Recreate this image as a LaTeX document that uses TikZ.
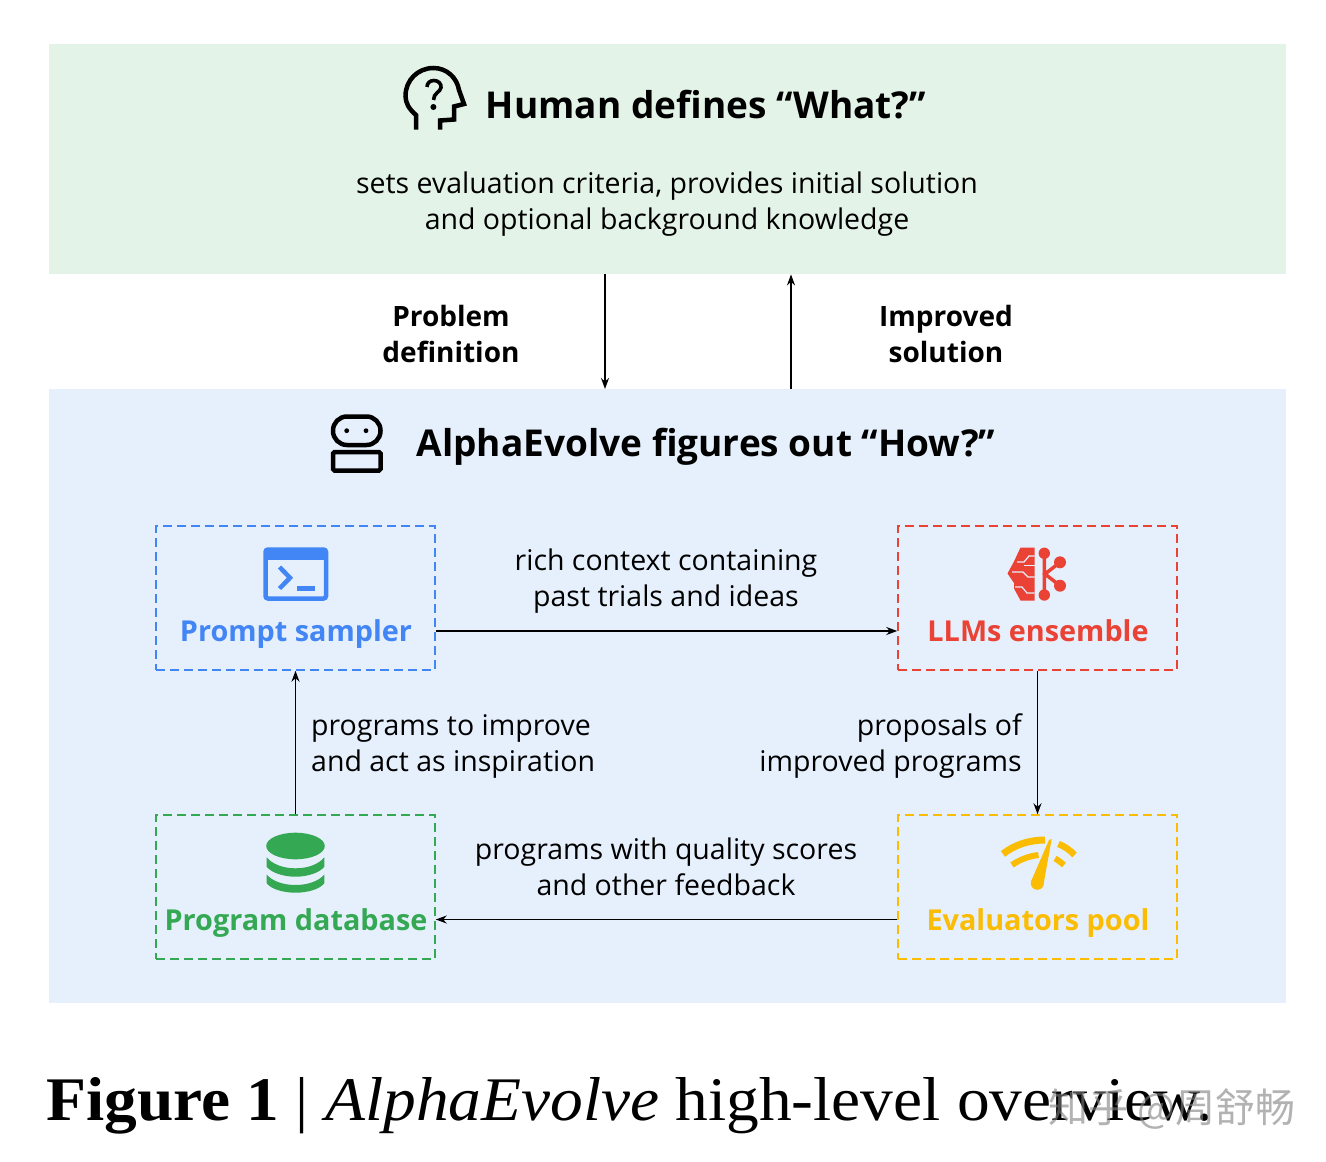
\documentclass[tikz,border=0pt]{standalone}
\usepackage{fontspec}
\setmainfont{Open Sans}
\newfontfamily\capfont[FakeStretch=1.055]{Liberation Serif}
\newfontfamily\cjkfont{Noto Sans CJK SC}
\usetikzlibrary{arrows.meta,calc}
\definecolor{greenbg}{HTML}{E4F3E8}
\definecolor{bluebg}{HTML}{E6F0FC}
\definecolor{gblue}{HTML}{4285F4}
\definecolor{gred}{HTML}{EA4335}
\definecolor{ggreen}{HTML}{34A853}
\definecolor{gyellow}{HTML}{FBBC04}
\tikzset{
  panel/.style={inner sep=0pt,minimum width=1237pt,anchor=north west},
  dbox/.style={draw=#1,line width=1.5pt,dash pattern=on 9pt off 5pt,inner sep=0pt,minimum width=279pt,minimum height=144pt},
  flow/.style={-{Stealth[length=11pt,width=8pt]},line width=1.5pt,black},
  body/.style={font=\fontsize{28.5}{36}\selectfont,align=center,inner sep=0pt},
  bodyl/.style={font=\fontsize{28.5}{36}\selectfont,align=left,inner sep=0pt},
  bodyr/.style={font=\fontsize{28.5}{36}\selectfont,align=right,inner sep=0pt},
  strong/.style={font=\fontsize{28}{36}\selectfont\bfseries,align=center,inner sep=0pt},
  heading/.style={font=\fontsize{37}{40}\selectfont\bfseries,inner sep=0pt,anchor=base},
  boxtitle/.style={font=\fontsize{28.8}{32}\selectfont\bfseries,inner sep=0pt,text=#1,anchor=base},
  iconline/.style={line width=4.5pt,black},
}
\begin{document}
\begin{tikzpicture}[x=1pt,y=-1pt]
\useasboundingbox[fill=white] (0,0) rectangle (1326,1162);
\node[panel,fill=greenbg,minimum height=230pt] (human) at (49,44) {};
\node[panel,fill=bluebg,minimum height=614pt] (how) at (49,389) {};
\node[heading] (humant) at (706,118) {Human defines “What?”};
\node[body] (humans) at (667,204) {sets evaluation criteria, provides initial solution\\and optional background knowledge};
\node[heading] (howt) at (706,456) {AlphaEvolve figures out “How?”};
\node[strong] (pd) at (451,334) {Problem\\definition};
\node[strong] (is) at (946,334) {Improved\\solution};
\node[dbox=gblue] (prompt) at (295.5,598) {};
\node[dbox=gred] (llm) at (1037.5,598) {};
\node[dbox=ggreen] (db) at (295.5,887) {};
\node[dbox=gyellow] (eval) at (1037.5,887) {};
\node[boxtitle=gblue] (promptt) at (296,641) {Prompt sampler};
\node[boxtitle=gred] (llmt) at (1038,641) {LLMs ensemble};
\node[boxtitle=ggreen] (dbt) at (296,930) {Program database};
\node[boxtitle=gyellow] (evalt) at (1038,930) {Evaluators pool};
\node[body] (l1) at (666,581) {rich context containing\\past trials and ideas};
\node[body] (l2) at (666,867) {programs with quality scores\\and other feedback};
\node[bodyl,anchor=west] (l3) at (311,746) {programs to improve\\and act as inspiration};
\node[bodyr,anchor=east] (l4) at (1022,746) {proposals of\\improved programs};
% connectors
\coordinate (dn) at (605,300);
\coordinate (up) at (791,300);
\coordinate (ra) at (600,631);
\coordinate (la) at (600,919.5);
\draw[flow] (human.south -| dn) -- (how.north -| dn);
\draw[flow] (how.north -| up) -- (human.south -| up);
\draw[flow] (prompt.east |- ra) -- (llm.west |- ra);
\draw[flow] (llm.south) -- (eval.north);
\draw[flow] (eval.west |- la) -- (db.east |- la);
\draw[flow] (db.north) -- (prompt.south);
% head icon
\draw[iconline,line join=miter] (416,129.5) -- (416,115) .. controls (409,109) and (405.5,103) .. (405.5,96)
  .. controls (405.5,80) and (418,68) .. (433.5,68) .. controls (447,68) and (457,78) .. (459,90)
  -- (464,104) -- (454,106.5) -- (454,119.5) -- (440,120.5) -- (440,129.5);
\draw[line width=3.6pt,black] (427,87) .. controls (427,83) and (430,80.5) .. (434,80.5) .. controls (438.5,80.5) and (441.5,84) .. (441,87.5) .. controls (440.5,92) and (433.5,93) .. (433.5,100);
\fill[black] (433.4,107) circle (3pt);
% robot icon
\draw[iconline,rounded corners=14pt] (333,416.5) rectangle (380.5,445);
\fill[black] (346.7,430.7) circle (2.4pt) (366,430.7) circle (2.4pt);
\draw[iconline,rounded corners=1.5pt] (333,452) rectangle (380.5,470.5);
% terminal icon
\draw[gblue,line width=4.5pt,rounded corners=2.5pt] (265.5,549.5) rectangle (326,598.5);
\fill[gblue] (265.5,549.5) rectangle (326,559.5);
\draw[gblue,line width=4.5pt] (279.5,567) -- (290,577.8) -- (279.5,588.5);
\draw[gblue,line width=4.5pt] (297,588.3) -- (315,588.3);
% LLM icon
\fill[gred] (1020.5,547.5) -- (1034.5,547.5) -- (1034.5,600.5) -- (1020.5,600.5) -- (1014,588.5) -- (1014,583) -- (1007.5,573.5) -- (1014,561.5) -- cycle;
\draw[bluebg,line width=1.2pt] (1017,562) -- (1024,562) -- (1029,556) -- (1034.5,556);
\draw[bluebg,line width=1.2pt] (1024,565.5) -- (1034.5,565.5);
\draw[bluebg,line width=1.2pt] (1012,572) -- (1023,572) -- (1028,577) -- (1034.5,577);
\draw[bluebg,line width=1.2pt] (1015,587) -- (1022,587) -- (1027,593) -- (1034.5,593);
\draw[gred,line width=3.5pt] (1044.3,553.3) -- (1044.3,595) (1060,562.3) -- (1045,574) -- (1060,585.7);
\fill[gred] (1044.3,553.3) circle (5.7pt) (1044.3,595) circle (5.7pt) (1060,562.3) circle (6pt) (1060,585.7) circle (6pt);
% gauge icon
\draw[gyellow,line width=7pt] (1003,854) .. controls (1014,845) and (1029,840) .. (1045,840);
\draw[gyellow,line width=6pt] (1012,865) .. controls (1019,860) and (1029,856) .. (1038.5,855);
\draw[gyellow,line width=6.5pt] (1058.5,844) .. controls (1064,846) and (1070,850) .. (1074.5,855);
\draw[gyellow,line width=6pt] (1055,858.5) .. controls (1058,860) and (1061,862.5) .. (1064,865);
\fill[gyellow] (1051.7,839) -- (1043.4,885) -- (1031.2,881) -- (1049,840) -- cycle;
\fill[gyellow] (1037.3,883.3) circle (6.5pt);
% database icon
\fill[ggreen] (295.5,846) ellipse (29.3pt and 13.3pt);
\fill[ggreen] (266.7,857.3) .. controls (272,864) and (283,868.3) .. (295.5,868.3) .. controls (308,868.3) and (319,864) .. (324.3,857.3)
  -- (324.3,866.7) .. controls (320,872.5) and (308,876.7) .. (295.5,876.7) .. controls (283,876.7) and (271,872.5) .. (266.7,866.7) -- cycle;
\fill[ggreen] (266.7,874.5) .. controls (272,881) and (283,885) .. (295.5,885) .. controls (308,885) and (319,881) .. (324.3,874.5)
  -- (324.3,883.3) .. controls (320,889) and (308,892.7) .. (295.5,892.7) .. controls (283,892.7) and (271,889) .. (266.7,883.3) -- cycle;
% caption
\node[anchor=base west,inner sep=0pt,font=\capfont\fontsize{62}{70}\selectfont] (cap) at (46,1120) {\textbf{Figure 1} | \textit{AlphaEvolve} high-level overview.};
\node[anchor=base west,inner sep=0pt,text=gray,opacity=.6,font=\cjkfont\fontsize{40}{44}\selectfont] (wm) at (1048,1122) {知乎 @周舒畅};
\end{tikzpicture}
\end{document}
